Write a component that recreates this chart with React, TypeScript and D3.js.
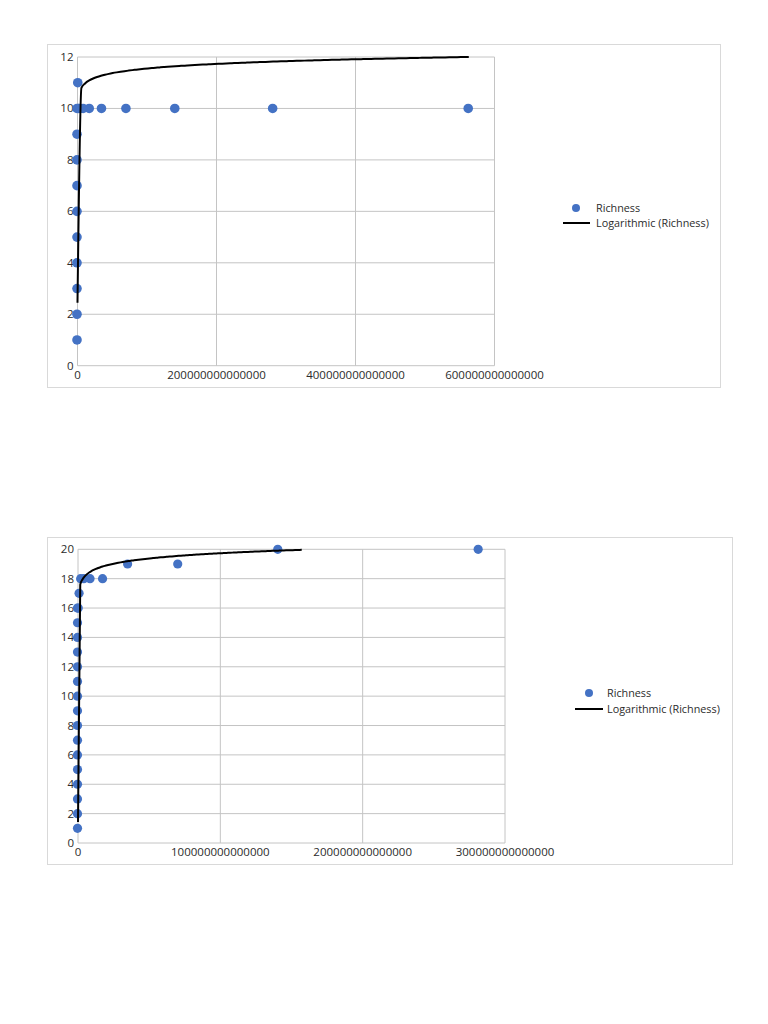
import React from "react";
import * as d3 from "d3";

// ---------- Data ----------
// Chart 1
const topSampleSize = [2, 4, 8, 16, 32, 64, 128, 256, 512, 1000000000, 1100000000000, 2200000000000, 4400000000000, 8800000000000, 17600000000000, 35200000000000, 70400000000000, 140700000000000, 281500000000000, 562900000000000];
const topRichness = [1, 2, 3, 4, 5, 6, 7, 8, 9, 10, 11, 10, 10, 10, 10, 10, 10, 10, 10, 10];
const topXTicks = [0, 200000000000000, 400000000000000, 600000000000000];
const topYTicks = [0, 2, 4, 6, 8, 10, 12];
// logarithmic trendline y = a*ln(x) + b over [xMin, xMax]
const topTrendCoef = [0.26, 3.17];
const topTrendRange = [0.063, 563000000000000];

// Chart 2
const bottomSampleSize = [2, 4, 8, 16, 32, 64, 128, 256, 512, 1024, 2048, 4096, 8192, 16384, 32768, 65536, 500000000000, 1100000000000, 2200000000000, 4400000000000, 8800000000000, 17600000000000, 35200000000000, 70400000000000, 140700000000000, 281500000000000];
const bottomRichness = [1, 2, 3, 4, 5, 6, 7, 8, 9, 10, 11, 12, 13, 14, 15, 16, 16, 17, 18, 18, 18, 18, 19, 19, 20, 20];
const bottomXTicks = [0, 100000000000000, 200000000000000, 300000000000000];
const bottomYTicks = [0, 2, 4, 6, 8, 10, 12, 14, 16, 18, 20];
const bottomTrendCoef = [0.515, 3.13];
const bottomTrendRange = [0.037, 157200000000000];

const seriesName = "Richness";
const trendName = "Logarithmic (Richness)";

const FONT = "'Open Sans', 'Noto Sans', sans-serif";
const TEXT = "#2b2b2b";
const GRID = "#c4c4c4";
const BLUE = "#4472C4";

type ChartProps = {
  xs: number[];
  ys: number[];
  xTicks: number[];
  yTicks: number[];
  coef: number[];
  range: number[];
  box: { x: number; y: number; w: number; h: number };
  plot: { left: number; right: number; top: number; bottom: number };
  legend: { mx: number; my: number; lx0: number; lx1: number; ly: number; tx: number };
  r: number;
};

function Chart({ xs, ys, xTicks, yTicks, coef, range, box, plot, legend, r }: ChartProps) {
  const x = d3.scaleLinear().domain([xTicks[0], xTicks[xTicks.length - 1]]).range([plot.left, plot.right]);
  const y = d3.scaleLinear().domain([yTicks[0], yTicks[yTicks.length - 1]]).range([plot.bottom, plot.top]);
  const fmt = d3.format("d");

  // Excel-style trendline sampling: evenly spaced in x
  const n = 100;
  const step = range[1] / n;
  const trendXs = [range[0], ...d3.range(1, n + 1).map((i) => Math.min(range[1], i * step))];
  const trendPts: [number, number][] = trendXs.map((v) => [v, coef[0] * Math.log(v) + coef[1]]);
  const line = d3
    .line<[number, number]>()
    .x((d) => x(d[0]))
    .y((d) => y(d[1]))
    .curve(d3.curveMonotoneX);

  return (
    <g>
      <rect x={box.x + 0.5} y={box.y + 0.5} width={box.w} height={box.h} fill="#fff" stroke="#d9d9d9" strokeWidth={1} />
      {yTicks.map((t) => (
        <line key={"gy" + t} x1={plot.left} x2={plot.right} y1={y(t)} y2={y(t)} stroke={GRID} strokeWidth={1} />
      ))}
      {xTicks.map((t) => (
        <line key={"gx" + t} x1={x(t)} x2={x(t)} y1={plot.top} y2={plot.bottom} stroke={GRID} strokeWidth={1} />
      ))}
      {yTicks.map((t) => (
        <text key={"ly" + t} x={plot.left - 4} y={y(t)} dy="0.35em" textAnchor="end" fontFamily={FONT} fontSize={11.5} fill={TEXT}>
          {t}
        </text>
      ))}
      {xTicks.map((t) => (
        <text key={"lx" + t} x={x(t)} y={plot.bottom + 9} dy="0.35em" textAnchor="middle" fontFamily={FONT} fontSize={11.5} fill={TEXT}>
          {fmt(t)}
        </text>
      ))}
      {xs.map((v, i) => (
        <circle key={"p" + i} cx={x(v) - 0.5} cy={y(ys[i])} r={r} fill={BLUE} />
      ))}
      <path d={line(trendPts) || ""} fill="none" stroke="#000" strokeWidth={2} />
      <circle cx={legend.mx} cy={legend.my} r={4} fill={BLUE} />
      <text x={legend.tx} y={legend.my} dy="0.35em" fontFamily={FONT} fontSize={10.8} fill={TEXT}>
        {seriesName}
      </text>
      <line x1={legend.lx0} x2={legend.lx1} y1={legend.ly} y2={legend.ly} stroke="#000" strokeWidth={2} />
      <text x={legend.tx} y={legend.ly} dy="0.35em" fontFamily={FONT} fontSize={10.8} fill={TEXT}>
        {trendName}
      </text>
    </g>
  );
}

export default function App() {
  return (
    <svg width={768} height={1024} style={{ position: "absolute", left: 0, top: 0, background: "#fff" }}>
      <rect x={0} y={0} width={768} height={1024} fill="#fff" />
      <Chart
        xs={topSampleSize}
        ys={topRichness}
        xTicks={topXTicks}
        yTicks={topYTicks}
        coef={topTrendCoef}
        range={topTrendRange}
        box={{ x: 47, y: 44, w: 673, h: 343 }}
        plot={{ left: 77.5, right: 494.5, top: 57, bottom: 365.7 }}
        legend={{ mx: 576, my: 208, lx0: 563, lx1: 590, ly: 223, tx: 596 }}
        r={4.8}
      />
      <Chart
        xs={bottomSampleSize}
        ys={bottomRichness}
        xTicks={bottomXTicks}
        yTicks={bottomYTicks}
        coef={bottomTrendCoef}
        range={bottomTrendRange}
        box={{ x: 47, y: 537, w: 685, h: 327 }}
        plot={{ left: 78, right: 505, top: 549.3, bottom: 843 }}
        legend={{ mx: 589, my: 693, lx0: 575, lx1: 603, ly: 709, tx: 607 }}
        r={4.6}
      />
    </svg>
  );
}
